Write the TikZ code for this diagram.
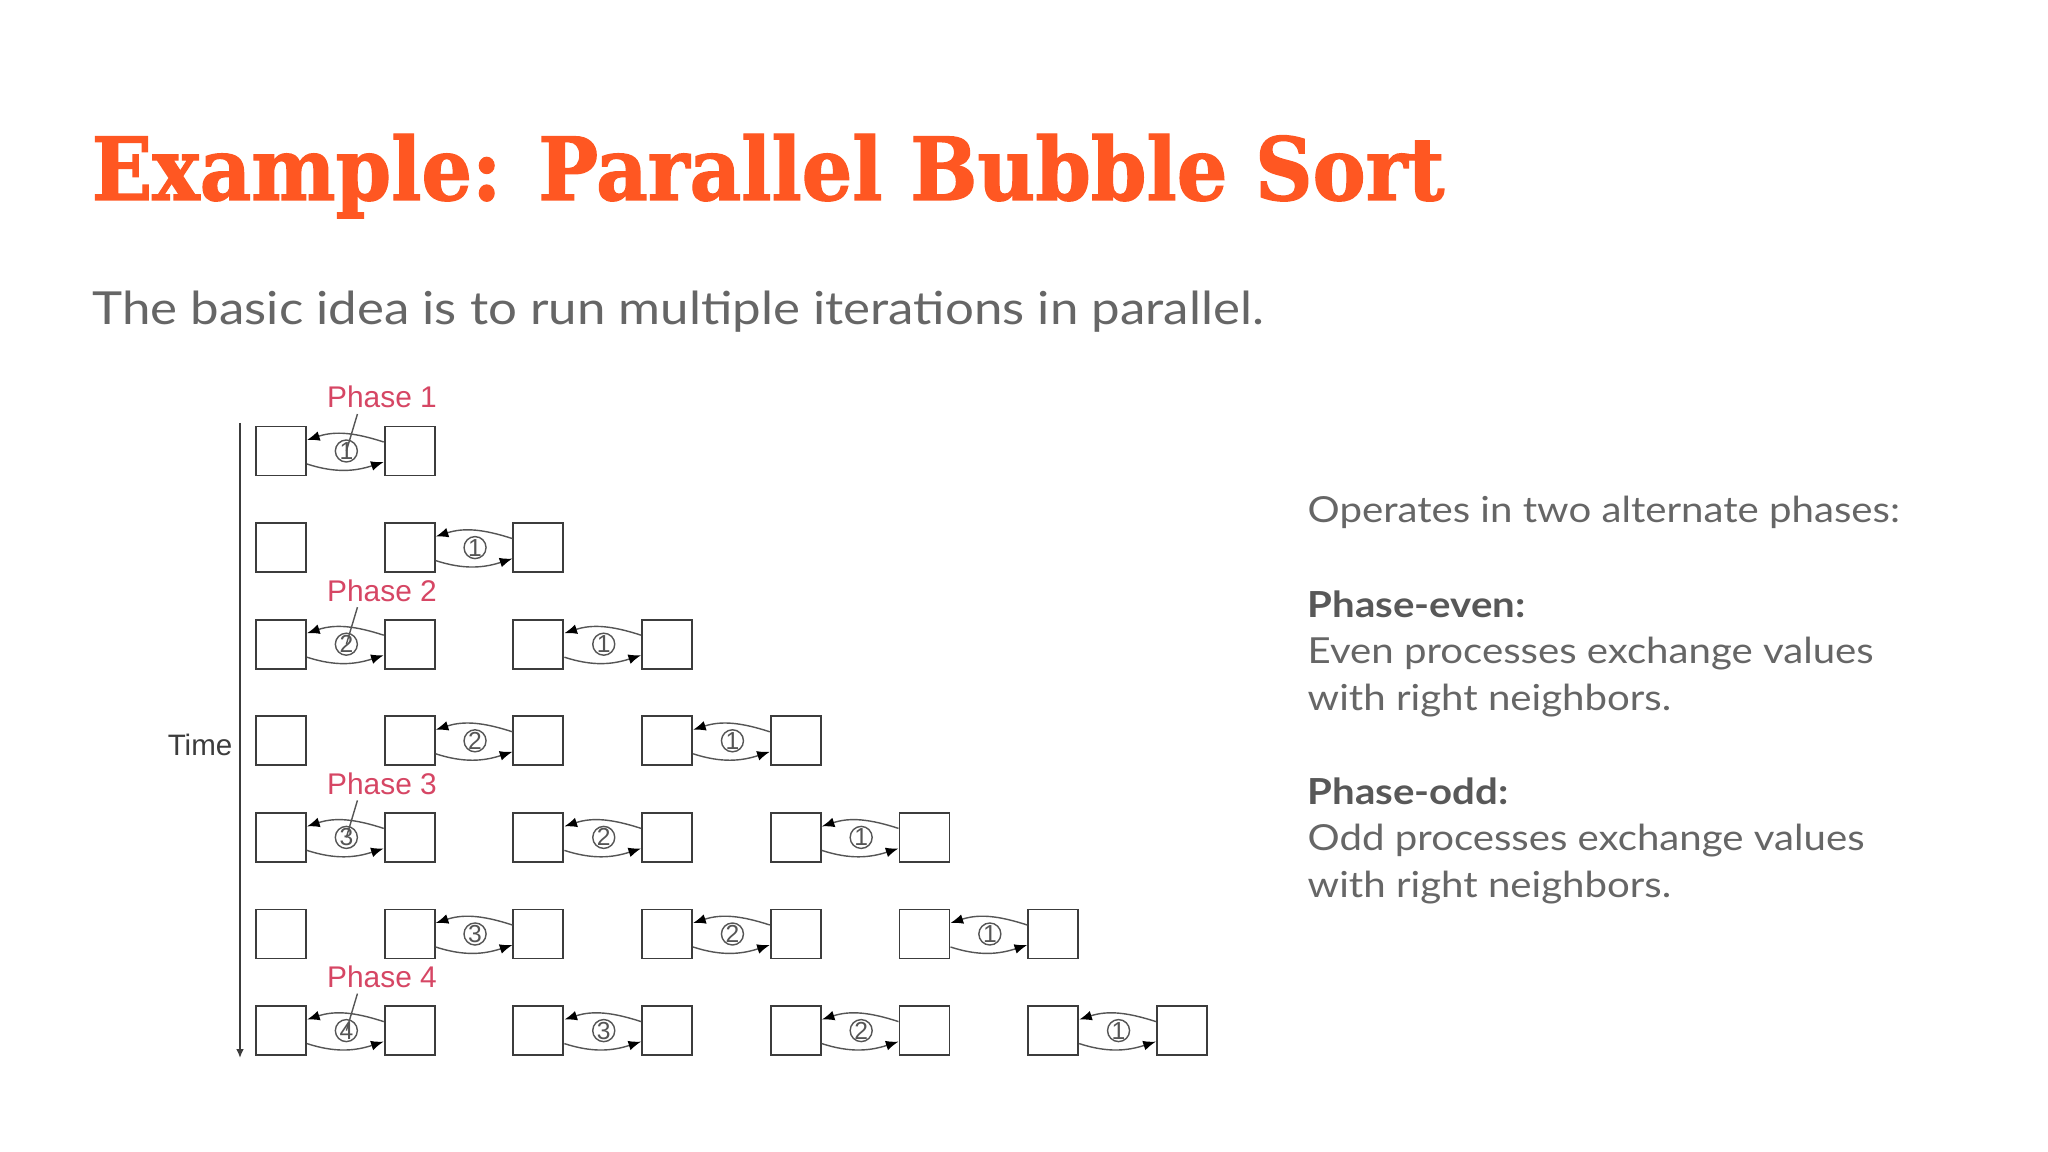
\documentclass[tikz,border=0pt]{standalone}
\usepackage{fontspec}
\usepackage{graphicx}
\usetikzlibrary{calc,arrows.meta}
\setmainfont{Lato}[FakeStretch=1.12]
\newfontfamily\titlefont{DejaVu Serif}[BoldFeatures={FakeBold=1.6}]
\newfontfamily\figfont{Liberation Sans}
\definecolor{titleorange}{RGB}{255,87,34}
\definecolor{bodygray}{RGB}{102,102,102}
\definecolor{headgray}{RGB}{88,88,88}
\definecolor{phasered}{RGB}{214,70,100}
\definecolor{boxgray}{RGB}{60,60,60}
\definecolor{arcgray}{RGB}{85,85,85}
\tikzset{
  box/.style={draw=boxgray, line width=0.55pt, minimum width=0.5cm, minimum height=0.49cm, inner sep=0pt},
  num/.style={circle, draw=arcgray, line width=0.4pt, minimum size=0.22cm, inner sep=0pt, font=\figfont\fontsize{7}{7}\selectfont, text=arcgray},
  xarc/.style={draw=arcgray, line width=0.4pt, -{Latex[length=3.6pt,width=2.8pt,color=black]}},
  phaselab/.style={anchor=base, inner sep=0pt, font=\figfont\fontsize{8.5}{8.5}\selectfont, text=phasered},
  pointer/.style={draw=arcgray, line width=0.4pt},
  body/.style={anchor=base west, inner sep=0pt, text=bodygray},
}
\begin{document}
\begin{tikzpicture}[x=0.01cm, y=-0.01cm]
\useasboundingbox[fill=white] (0,0) rectangle (2048,1152);
% title
\node[anchor=base west, inner sep=0pt, text=titleorange] (title) at (91,200)
  {\resizebox{13.52cm}{0.66cm}{\titlefont\bfseries Example: Parallel Bubble Sort}};
\node[body, font=\fontsize{12.95}{15}\selectfont] (intro) at (92,325)
  {The basic idea is to run multiple iterations in parallel.};
% right text
\begin{scope}[every node/.style={body, font=\fontsize{10.2}{12}\selectfont}]
\node (t1) at (1307,523) {Operates in two alternate phases:};
\node[text=headgray] (t2) at (1307,617) {\bfseries Phase-even:};
\node (t3) at (1307,663) {Even processes exchange values};
\node (t4) at (1307,710) {with right neighbors.};
\node[text=headgray] (t5) at (1307,804) {\bfseries Phase-odd:};
\node (t6) at (1307,850) {Odd processes exchange values};
\node (t7) at (1307,897) {with right neighbors.};
\end{scope}
% time axis
\coordinate (axtop) at (240,423);
\coordinate (axbot) at (240,1058);
\draw[draw=boxgray, line width=0.5pt, -{Latex[length=2.5pt,width=2.2pt]}] (axtop) -- (axbot);
\node[anchor=base east, inner sep=0pt, font=\figfont\fontsize{8.4}{8.4}\selectfont, text=boxgray] (time) at (233,755) {Time};
% boxes
\foreach \r in {1,...,7} {
  \foreach \c in {0,...,\r} {
    \node[box] (b\r-\c) at ({281+128.7*\c},{451+96.6*(\r-1)}) {};
  }
}
% exchanges
\foreach \r/\c/\n in {1/0/1, 2/1/1, 3/0/2, 3/2/1, 4/1/2, 4/3/1, 5/0/3, 5/2/2, 5/4/1, 6/1/3, 6/3/2, 6/5/1, 7/0/4, 7/2/3, 7/4/2, 7/6/1} {
  \pgfmathtruncatemacro\d{\c+1}
  \node[num] (n\r-\c) at ($(b\r-\c.east)!0.5!(b\r-\d.west)+(1,0)$) {\n};
  \draw[xarc] ($(b\r-\d.west)+(0,-9)$) to[out=162,in=18] ($(b\r-\c.east)+(0,-11)$);
  \draw[xarc] ($(b\r-\c.east)+(0,13)$) to[out=-18,in=198] ($(b\r-\d.west)+(0,11)$);
}
% phase labels
\foreach \r/\p in {1/1, 3/2, 5/3, 7/4} {
  \node[phaselab] (ph\p) at ($(b\r-0.center)+(101,-43)$) {Phase \p};
  \draw[pointer] ($(ph\p.south west)+(31,5)$) -- (n\r-0.center);
}
\end{tikzpicture}
\end{document}
